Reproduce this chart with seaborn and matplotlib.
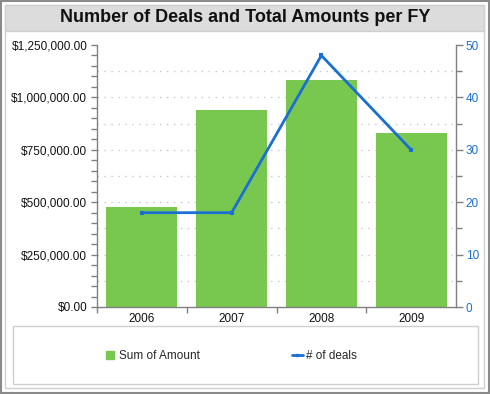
import numpy as np
import pandas as pd
import matplotlib
matplotlib.use('Agg')
import matplotlib.pyplot as plt
import seaborn as sns
from matplotlib.patches import Rectangle
from matplotlib.lines import Line2D

# data
years = ['2006', '2007', '2008', '2009']
amounts = [477000, 940000, 1083000, 830000]
deals = [18, 18, 48, 30]

bar_color = '#78c850'
line_color = '#1a6fd2'
axis_gray = '#808080'

df = pd.DataFrame({'FY': years, 'Amount': amounts, 'Deals': deals})

sns.set_style('white')
plt.rcParams['font.family'] = ['Liberation Sans', 'DejaVu Sans']

W, H = 490, 394
fig = plt.figure(figsize=(W / 100, H / 100), dpi=100)


def fx(x):
    return x / W


def fy(y):
    return 1 - y / H


# frame, panel and title band
fig.patches.append(Rectangle((fx(1), fy(393)), fx(488), 392 / H, transform=fig.transFigure,
                             fill=False, edgecolor='#8a8a8a', linewidth=1.5, zorder=0))
fig.patches.append(Rectangle((fx(5), fy(388)), fx(479), 383 / H, transform=fig.transFigure,
                             fill=False, edgecolor='#cfcfcf', linewidth=1, zorder=0))
fig.patches.append(Rectangle((fx(5), fy(31)), fx(479), 26 / H, transform=fig.transFigure,
                             facecolor='#dcdcdc', edgecolor='#cfcfcf', linewidth=1, zorder=0))
fig.text(fx(245), fy(18), 'Number of Deals and Total Amounts per FY', ha='center', va='center',
         fontsize=13, fontweight='bold', color='#111111')

# legend box
fig.patches.append(Rectangle((fx(13), fy(384)), fx(465), 58 / H, transform=fig.transFigure,
                             fill=False, edgecolor='#cfcfcf', linewidth=1, zorder=0))

ax = fig.add_axes([fx(97), fy(307), fx(359), 262 / H])
ax2 = ax.twinx()

sns.barplot(data=df, x='FY', y='Amount', ax=ax, color=bar_color, width=0.79,
            saturation=1, edgecolor='none', zorder=2)
sns.pointplot(data=df, x='FY', y='Deals', ax=ax2, color=line_color, markers='s',
              markersize=2, linewidth=2)

ax.set_xlim(-0.5, len(years) - 0.5)
ax.set_ylim(0, 1250000)
ax2.set_ylim(0, 50)
ax.set_xlabel('')
ax.set_ylabel('')
ax2.set_xlabel('')
ax2.set_ylabel('')

# dotted grid following the right axis steps
for v in np.arange(125000, 1250000, 125000):
    ax.axhline(v, color='#c8c8c8', linestyle=(0, (1, 4)), linewidth=1, zorder=1)

ax.set_yticks(np.arange(0, 1250001, 250000))
ax.set_yticks(np.arange(0, 1250001, 50000), minor=True)
ax.set_yticklabels(['${:,.2f}'.format(v) for v in np.arange(0, 1250001, 250000)])
ax2.set_yticks(np.arange(0, 51, 10))
ax2.set_yticks(np.arange(0, 51, 5), minor=True)

ax.set_xticks(range(len(years)))
ax.set_xticklabels(years)
ax.set_xticks(np.arange(-0.5, len(years) - 1), minor=True)

for a in (ax, ax2):
    for s in a.spines.values():
        s.set_visible(False)
ax.spines['left'].set_visible(True)
ax.spines['bottom'].set_visible(True)
ax2.spines['right'].set_visible(True)
for s in (ax.spines['left'], ax.spines['bottom'], ax2.spines['right']):
    s.set_color(axis_gray)
    s.set_linewidth(1)

ax.tick_params(axis='y', which='major', direction='out', length=4, width=1, color=axis_gray,
               labelsize=8.5, pad=3, left=True, labelcolor='#111111')
ax.tick_params(axis='y', which='minor', direction='out', length=4, width=1, color=axis_gray, left=True)
ax.tick_params(axis='x', which='major', length=0, labelsize=8.5, pad=4, labelcolor='#111111')
ax.tick_params(axis='x', which='minor', direction='out', length=4, width=1, color=axis_gray, bottom=True)
ax2.tick_params(axis='y', which='major', direction='out', length=5, width=1, color=axis_gray,
                labelsize=8.5, pad=2, right=True, labelcolor=line_color)
ax2.tick_params(axis='y', which='minor', direction='out', length=4, width=1, color=axis_gray, right=True)

ax.grid(False)
ax2.grid(False)

handles = [
    Line2D([], [], linestyle='none', marker='s', markersize=6, color=bar_color),
    Line2D([], [], color=line_color, linewidth=2, marker='s', markersize=2),
]
fig.legend(handles, ['Sum of Amount', '# of deals'], loc='center', bbox_to_anchor=(fx(231), fy(356)),
           ncol=2, frameon=False, fontsize=8.5, handlelength=0.9, handletextpad=0.3,
           columnspacing=7.8)

fig.savefig('out.png', dpi=100)
